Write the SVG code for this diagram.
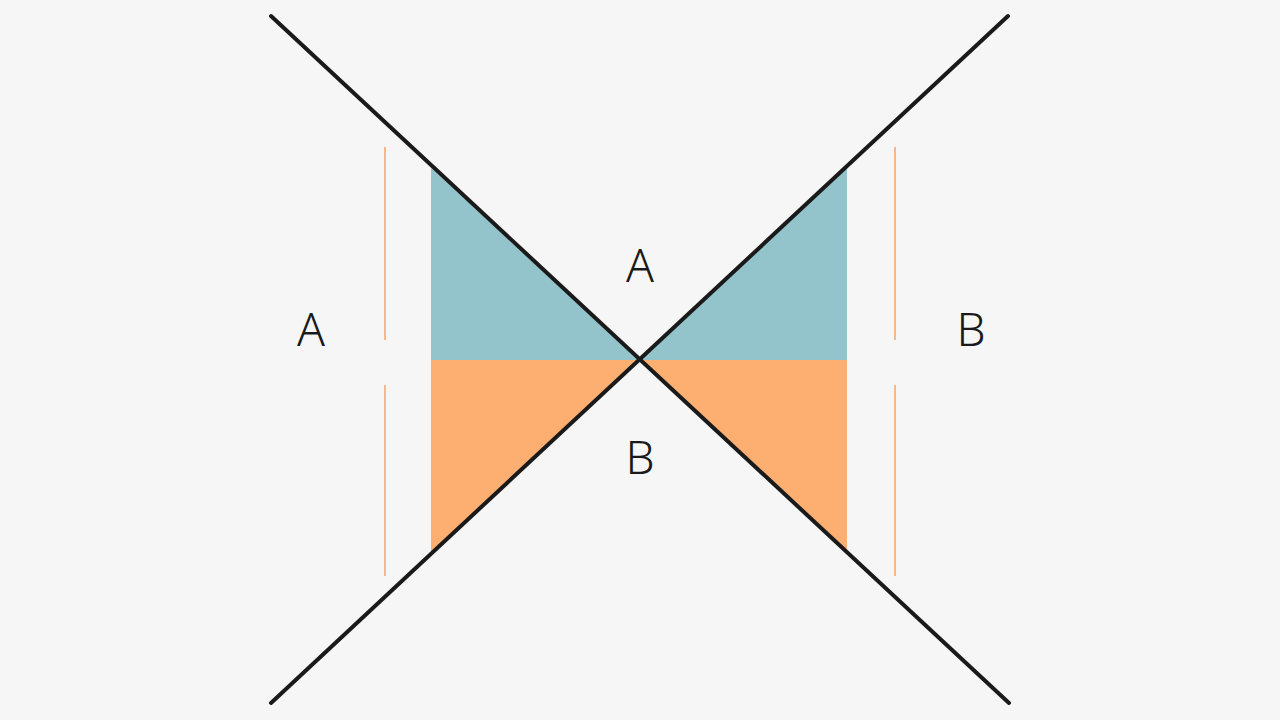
<svg xmlns="http://www.w3.org/2000/svg" width="1280" height="720" viewBox="0 0 1280 720">
<style>
.t{font-family:"Noto Sans","DejaVu Sans",sans-serif;font-size:46px;fill:#1a1a1a;text-anchor:middle;font-weight:300}
.g{stroke:#f5b88a;stroke-width:2}
.x{stroke:#1a1a1a;stroke-width:4;stroke-linecap:round}
</style>
<rect width="1280" height="720" fill="#f6f6f6"/>
<g id="fills">
<polygon points="431,168 431,360 640,360" fill="#93c3cb"/>
<polygon points="847,168 847,360 640,360" fill="#93c3cb"/>
<polygon points="431,552 431,360 640,360" fill="#fdaf72"/>
<polygon points="847,552 847,360 640,360" fill="#fdaf72"/>
</g>
<g id="guides">
<line class="g" x1="385" y1="147" x2="385" y2="340"/>
<line class="g" x1="385" y1="385" x2="385" y2="576"/>
<line class="g" x1="895" y1="147" x2="895" y2="340"/>
<line class="g" x1="895" y1="385" x2="895" y2="576"/>
</g>
<g id="connectors">
<line class="x" x1="271" y1="16" x2="1009" y2="703"/>
<line class="x" x1="1008" y1="16" x2="271" y2="703"/>
</g>
<g id="labels">
<text class="t" x="311" y="346">A</text>
<text class="t" x="640" y="282">A</text>
<text class="t" x="640" y="474">B</text>
<text class="t" x="971" y="346">B</text>
</g>
</svg>
